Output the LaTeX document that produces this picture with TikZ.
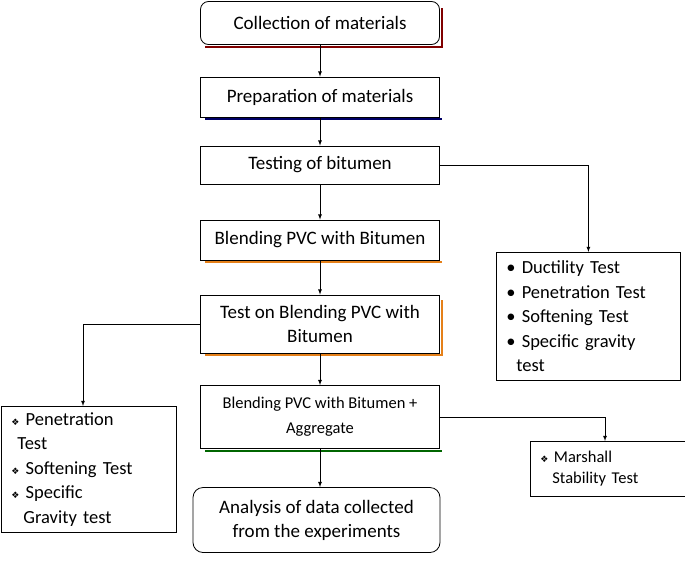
\documentclass[tikz,border=0pt]{standalone}
\usepackage{fontspec}
\setmainfont{Carlito}
\newfontfamily\symfont{DejaVu Sans}
\usetikzlibrary{positioning}
\newcommand{\dia}{{\symfont\small ❖}\ }
\newcommand{\bul}{\textbullet\ }
\tikzset{
  box/.style={draw, thick, fill=white, minimum width=239pt, align=center, font=\fontsize{19}{24}\selectfont},
  shad/.style={draw=#1, line width=1.6pt},
  arr/.style={->, >=latex, thick},
  lst/.style={draw, thick, fill=white, align=left, font=\fontsize{18.5}{24.5}\selectfont, anchor=north west, inner xsep=10pt, inner ysep=4pt}
}
\begin{document}
\begin{tikzpicture}[x=1pt,y=-1pt]
\useasboundingbox (0,0) rectangle (685,576);
% shadows
\draw[shad=red!50!black] (205,47) -- (442,47) -- (442,8);
\draw[shad=blue!40!black] (205,119) -- (442,119);
\draw[shad=orange!60!brown] (205,262) -- (442,262);
\draw[shad=orange!60!brown] (205,355) -- (442,355) -- (442,300);
\draw[shad=green!40!black] (205,451) -- (442,451);
% main column
\node[box, rounded corners=8pt, minimum height=43pt] (coll) at (320,23) {Collection of materials};
\node[box, minimum height=40pt] (prep) at (320,97) {Preparation of materials};
\node[box, minimum height=38pt] (test) at (320,165) {Testing of bitumen};
\node[box, minimum height=40pt] (blend) at (320,240) {Blending PVC with Bitumen};
\node[box, minimum height=58pt] (tblend) at (320,324) {Test on Blending PVC with\\Bitumen};
\node[box, minimum height=63pt, font=\fontsize{16.5}{25}\selectfont] (agg) at (320,417) {Blending PVC with Bitumen +\\Aggregate};
\node[box, rounded corners=10pt, minimum width=247pt, minimum height=65pt] (anal) at (316.5,520) {Analysis of data collected\\from the experiments};
% side lists
\node[lst, text width=164pt, minimum height=128pt] (dtest) at (496,252) {\bul Ductility Test\\\bul Penetration Test\\\bul Softening Test\\\bul Specific gravity\\\hspace*{10pt}test};
\node[lst, text width=155pt, minimum height=126pt] (ptest) at (1,406) {\dia Penetration\\\hspace*{6pt}Test\\\dia Softening Test\\\dia Specific\\\hspace*{12pt}Gravity test};
\node[lst, text width=135pt, minimum height=55pt, font=\fontsize{16.5}{21}\selectfont] (mtest) at (530,441) {\dia Marshall\\\hspace*{12pt}Stability Test};
% connectors
\draw[arr] (coll) -- (prep);
\draw[arr] (prep) -- (test);
\draw[arr] (test) -- (blend);
\draw[arr] (blend) -- (tblend);
\draw[arr] (tblend) -- (agg);
\draw[arr] (agg) -- (agg |- anal.north);
\draw[arr] (test.east) -| (dtest.north);
\draw[arr] (tblend.west) -| (ptest.north -| 83,0);
\draw[arr] (agg.east) -| (mtest.north -| 605,0);
\end{tikzpicture}
\end{document}
